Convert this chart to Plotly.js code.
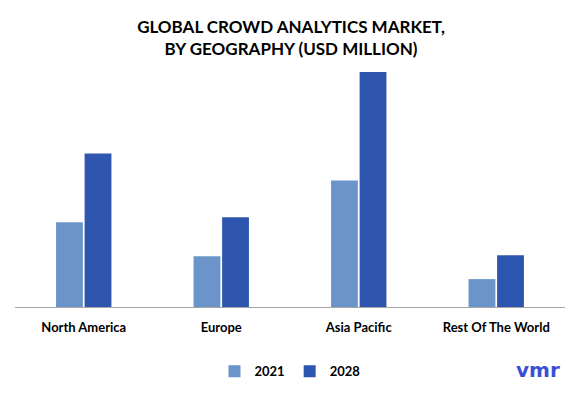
<!DOCTYPE html>
<html><head><meta charset="utf-8">
<script src="https://cdn.plot.ly/plotly-3.0.1.min.js"></script>
<style>body{margin:0;background:#fff}#c{width:582px;height:398px}</style>
</head><body><div id="c"></div>
<script>
const categories = ["North America", "Europe", "Asia Pacific", "Rest Of The World"];
const values2021 = [85, 51, 127, 28];
const values2028 = [154, 90, 236, 52];
const seriesNames = ["2021", "2028"];

const traces = [
  {type:"bar", name:seriesNames[0], x:categories, y:values2021, marker:{color:"#6a94ca", line:{width:0}}},
  {type:"bar", name:seriesNames[1], x:categories, y:values2028, marker:{color:"#2e56ae", line:{width:0}}}
];
const layout = {
  width:582, height:398,
  margin:{l:15, r:17, t:60, b:88},
  paper_bgcolor:"#fff", plot_bgcolor:"#fff",
  barmode:"group", bargap:0.585, bargroupgap:0.06,
  title:{text:"<b>GLOBAL CROWD ANALYTICS MARKET,<br>BY GEOGRAPHY (USD MILLION)</b>", x:0.5, xanchor:"center", y:0.918, yanchor:"top",
    font:{family:"Lato, 'Open Sans', sans-serif", size:17, color:"#000"}},
  xaxis:{showline:true, linecolor:"#a6a6a6", linewidth:1, ticks:"", showgrid:false, zeroline:false, ticklabelstandoff:8,
    tickfont:{family:"Lato, 'Open Sans', sans-serif", size:13, color:"#000", weight:"bold"}},
  yaxis:{range:[0,248], visible:false, showgrid:false, zeroline:false},
  showlegend:true,
  legend:{orientation:"h", x:0.5, xanchor:"center", y:-0.2, yanchor:"top",
    font:{family:"Lato, 'Open Sans', sans-serif", size:13, color:"#000", weight:"bold"}, itemwidth:30, traceorder:"normal"},
  annotations:[{text:"<b>vmr</b>", xref:"paper", yref:"paper", x:0.995, y:-0.2, xanchor:"right", yanchor:"top", showarrow:false,
    font:{family:"DejaVu Sans", size:20, color:"#3a4fd6"}}]
};
Plotly.newPlot("c", traces, layout, {displayModeBar:false, staticPlot:true});
</script></body></html>
